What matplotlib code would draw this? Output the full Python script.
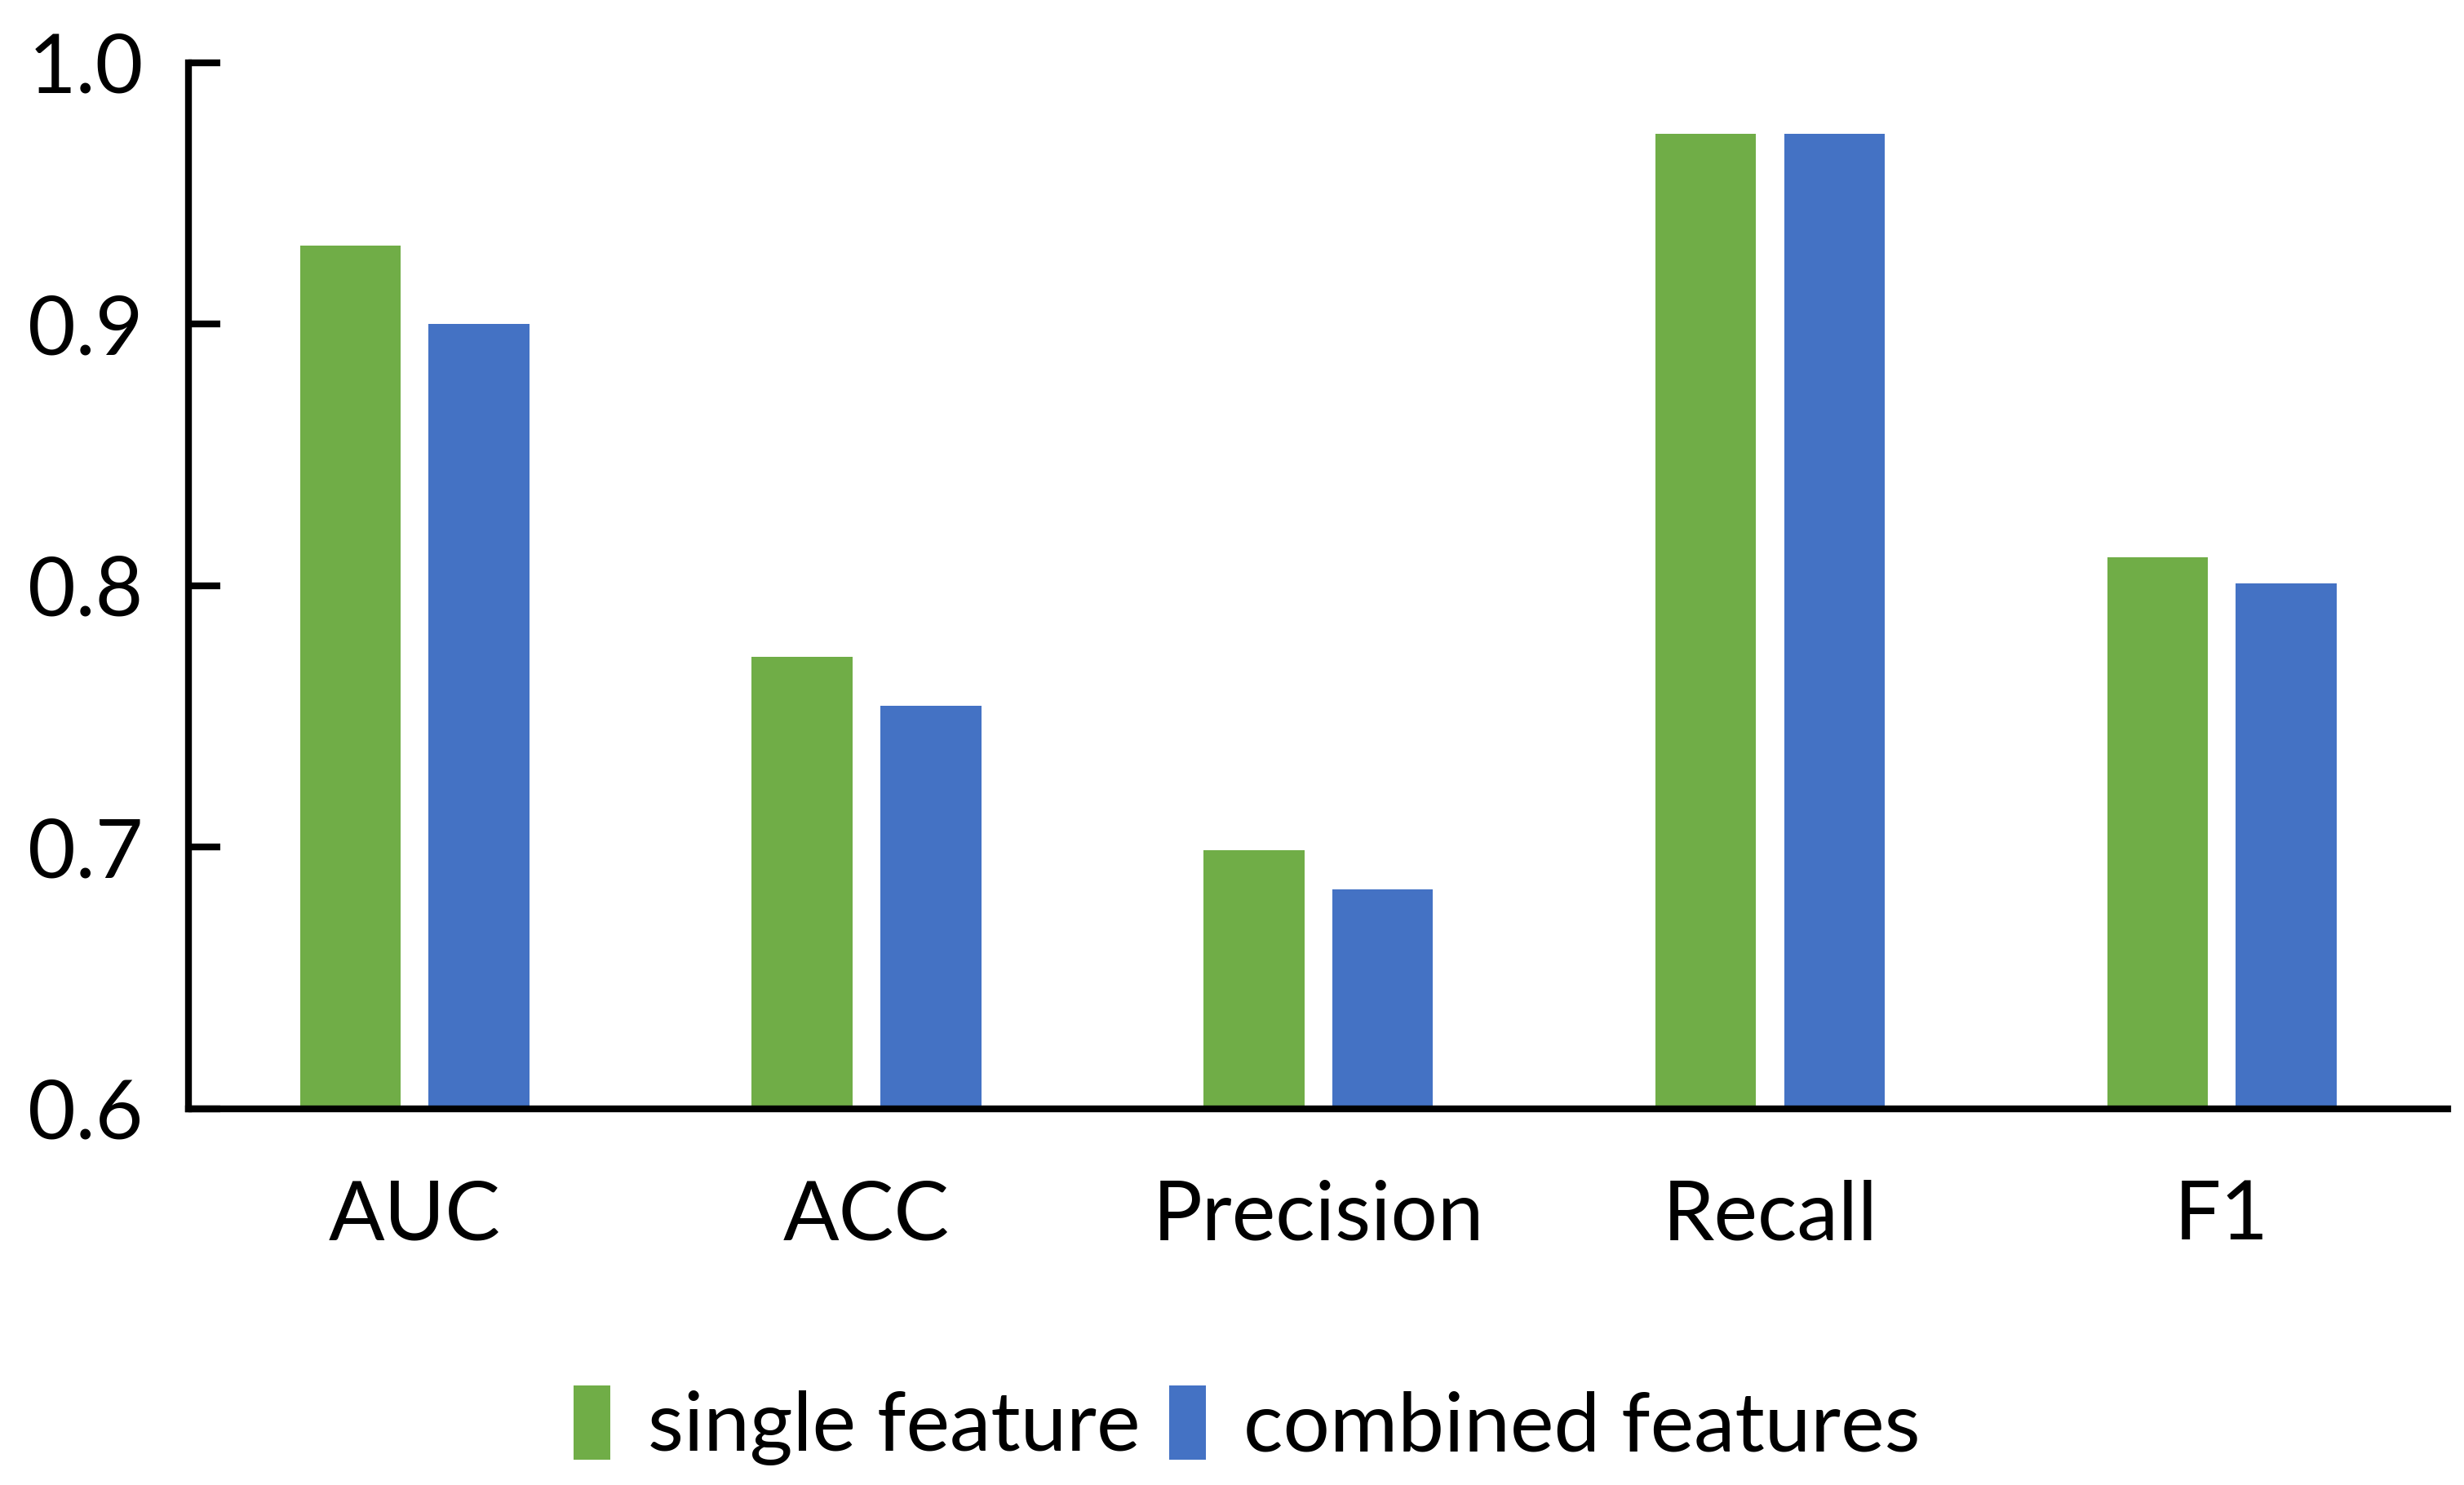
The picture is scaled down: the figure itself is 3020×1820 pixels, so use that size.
import numpy as np
import matplotlib
matplotlib.use("Agg")
import matplotlib.pyplot as plt

# values
metrics = ["AUC", "ACC", "Precision", "Recall", "F1"]
single_feature = [0.930, 0.773, 0.699, 0.973, 0.811]
combined_features = [0.900, 0.754, 0.684, 0.973, 0.801]
series_names = ["single feature", "combined features"]
yticks = [0.6, 0.7, 0.8, 0.9, 1.0]

plt.rcParams["font.family"] = ["Lato", "DejaVu Sans"]

fig = plt.figure(figsize=(30.2, 18.2), dpi=100)
ax = fig.add_axes([0.0766, 0.2533, 0.9168, 0.7044])

x = np.arange(len(metrics))
width = 0.223
offset = 0.1425
ax.bar(x - offset, single_feature, width, color="#70AD47", label=series_names[0])
ax.bar(x + offset, combined_features, width, color="#4472C4", label=series_names[1])

ax.set_xlim(-0.5, 4.5)
ax.set_ylim(0.6, 1.0)
ax.set_yticks(yticks)
ax.set_yticklabels([f"{t:.1f}" for t in yticks])
ax.set_xticks(x)
ax.set_xticklabels(metrics)

for side in ["top", "right"]:
    ax.spines[side].set_visible(False)
for side in ["left", "bottom"]:
    ax.spines[side].set_linewidth(6)
    ax.spines[side].set_color("black")

ax.tick_params(axis="y", direction="in", length=28, width=6, pad=40, labelsize=73)
ax.tick_params(axis="x", length=0, pad=62, labelsize=73)

fig.legend(loc="center", bbox_to_anchor=(0.506, 0.04), ncol=2, frameon=False,
           fontsize=73, handlelength=0.45, handleheight=1.0, handletextpad=0.45,
           columnspacing=0.35)

fig.savefig("out.png", dpi=100)
